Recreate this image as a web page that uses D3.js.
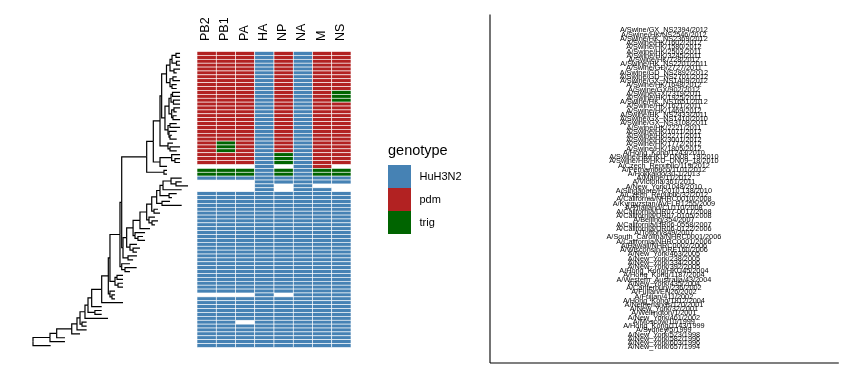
<!DOCTYPE html>
<html>
<head>
<meta charset="utf-8">
<script src="https://cdn.jsdelivr.net/npm/d3@7"></script>
<style>
body { margin: 0; background: #fff; }
svg { font-family: "Liberation Sans", Arial, Helvetica, sans-serif; will-change: transform; }
</style>
</head>
<body>
<script>
// segments shown in the heatmap
var genes = ["PB2", "PB1", "PA", "HA", "NP", "NA", "M", "NS"];
var genotypes = ["HuH3N2", "pdm", "trig"];
var genotypeCode = { H: "HuH3N2", P: "pdm", T: "trig" }; // "-" = missing

// one string per tip (top to bottom), one letter per segment
var genotypeRows = [
	"PPPHPHPP", "PPPHPHPP", "PPPHPHPP", "PPPHPHPP", "PPPHPHPP",
	"PPPHPHPP", "PPPHPHPP", "PPPHPHPP", "PPPHPHPP", "PPPHPHPP",
	"PPPHPHPT", "PPPHPHPT", "PPPHPHPT",
	"PPPHPHPP", "PPPHPHPP", "PPPHPHPP", "PPPHPHPP", "PPPHPHPP",
	"PPPHPHPP", "PPPHPHPP", "PPPHPHPP", "PPPHPHPP", "PPPHPHPP",
	"PTPHPHPP", "PTPHPHPP", "PTPHPHPP",
	"PPPHTHPP", "PPPHTHPP", "PPPHTHPP",
	"---H-HP-",
	"TTTHTHTT", "TTTHTHTT",
	"HHHHHHHH", "---HHHHH", "---H-H--", "---H-HH-",
	"HHHHHHHH", "HHHHHHHH", "HHHHHHHH", "HHHHHHHH", "HHHHHHHH",
	"HHHHHHHH", "HHHHHHHH", "HHHHHHHH", "HHHHHHHH", "HHHHHHHH",
	"HHHHHHHH", "HHHHHHHH", "HHHHHHHH", "HHHHHHHH", "HHHHHHHH",
	"HHHHHHHH", "HHHHHHHH", "HHHHHHHH", "HHHHHHHH", "HHHHHHHH",
	"HHHHHHHH", "HHHHHHHH", "HHHHHHHH", "HHHHHHHH", "HHHHHHHH",
	"HHHHHHHH",
	"---H-HHH",
	"HHHHHHHH", "HHHHHHHH", "HHHHHHHH", "HHHHHHHH", "HHHHHHHH", "HHHHHHHH",
	"HH-HHHHH",
	"HHHHHHHH", "HHHHHHHH", "HHHHHHHH", "HHHHHHHH", "HHHHHHHH", "HHHHHHHH"
];

// tip labels, same order
var tipLabels = [
	"A/Swine/GX_NS2394/2012", "A/Swine/HK/NS2546/2012", "A/Swine/HK_NS2369/2012",
	"A/Swine/HK/1602/2012", "A/Swine/HK/1580/2012", "A/Swine/HK/2503/2011",
	"A/Swine/HK/3245/2011", "A/Swine/HK/728/2012", "A/Swine/HK_NS2201/2011",
	"A/Swine/GD/2727/2011", "A/Swine/GD_NS2892/2012", "A/Swine/GD_NS2701/2012",
	"A/Swine/GX_NS1409/2012", "A/Swine/HK/1648/2012", "A/Swine/GX/902/2012",
	"A/Swine/GX/2319/2011", "A/Swine/HK/1925/2011", "A/Swine/HK_NS1651/2012",
	"A/Swine/HK/1621/2011", "A/Swine/HK/1469/2012", "A/Swine/HK_NS2433/2011",
	"A/Swine/GX_NS1410/2010", "A/Swine/GX_NS3108/2011", "A/Swine/HK/2221/2011",
	"A/Swine/HK/1071/2012", "A/Swine/HK/2271/2011", "A/Swine/HK/3001/2012",
	"A/Swine/HK/1772/2012", "A/Swine/HK/1805/2012", "A/Hong_Kong/1243/2010",
	"A/Swine/HK/HKU_DN08_19/2010", "A/Swine/HB/HKU_DN09_18/2010", "A/Czech_Republic/119/2012",
	"A/Pernambuco/1101/2012", "A/Hokkaido/30-1/2013", "A/Maine/11/2012",
	"A/Victoria/361/2011", "A/New_York/1048/2010", "A/Singapore/H2010.138/2010",
	"A/Czech_Republic/32/2012", "A/California/NHRC0010/2008", "A/Kyrgyzstan/AVFLR1255/2009",
	"A/Thailand/CU110/2008", "A/California/UR07-0017/2008", "A/California/UR07-0105/2008",
	"A/Beijing/354/2007", "A/California/UR06-0558/2007", "A/California/UR06-0122/2006",
	"A/Tottori/849/2007", "A/South_Carolina/NHRC0001/2006", "A/California/NHRC0001/2006",
	"A/Hawaii/NHRC0002/2006", "A/Wisconsin/DRE160/2006", "A/New_York/463/2005",
	"A/New_York/238/2005", "A/New_York/334/2006", "A/New_York/392/2005",
	"A/Hong_Kong/HKU45/2004", "A/Hong_Kong/1187/2004", "A/Western_Australia/43/2004",
	"A/New_York/435/2004", "A/Canterbury/236/2002", "A/Fujian/EN26/2002",
	"A/Fujian/411/2002", "A/Hong_Kong/1812/2004", "A/Netherlands/120/2001",
	"A/New_York/32/2001", "A/Wellington/1/2001", "A/New_York/461/2002",
	"A/Moscow/10/1999", "A/Hong_Kong/1143/1999", "A/Sydney/5/1999",
	"A/New_York/523/1998", "A/New_York/582/1996", "A/New_York/603/1996",
	"A/New_York/657/1994"
];

// tree in newick pieces (tips = row index, branch lengths in years)
var clades = [
	["root", "({N1}:2.36,75:2.45)"],
	["N1", "({N2}:0.93,74:2.08)"],
	["N2", "({N3}:2.09,73:1.15)"],
	["N3", "({N4}:0.73,72:1.15)"],
	["N4", "({N5}:0.42,71:1.34)"],
	["N5", "({N6}:0.69,(69:0.64,70:0.64):0.28)"],
	["N6", "({N7}:0.42,68:3.2)"],
	["N7", "({N8}:0.51,(66:0.94,67:0.94):0.96)"],
	["N8", "({N9}:1.39,65:1.39)"],
	["N9", "({N10}:0.92,64:2.96)"],
	["N10", "({N10a}:0.23,(61:0.7,(62:0.42,63:0.42):0.28):0.23)"],
	["N10a", "({N11}:1.39,((57:0.83,58:0.83):0.28,(59:0.69,60:0.69):0.42):0.7)"],
	["N11", "({M}:0.24,(54:1.15,(55:1.62,56:0.69):0.46):0.24)"],
	["M", "({A}:3.47,{H}:0.18)"],
	["A", "({P}:0.92,(30:0.42,31:0.42):2.4)"],
	["P", "({P1}:0.93,((26:1.16,(27:0.7,28:0.7):0.46):1.62,29:0.97):0.93)"],
	["P1", "(({Q1}:0.67,{Q2}:0.46):0.23,(23:0.69,(24:1.39,25:0.93):0.28):1.11)"],
	["Q1", "((((0:0.56,1:0.56):0.55,(2:0.49,3:0.49):0.62):0.28,(4:0.84,5:0.38):0.55):0.49,((6:0.52,7:0.98):0.41,(8:0.65,9:0.65):0.28):0.49)"],
	["Q2", "((((10:1.04,11:1.04):0.21,(12:0.91,13:0.91):0.34):0.28,((14:0.84,15:0.38):0.32,(16:0.52,17:0.98):0.18):0.37):0.56,((18:0.93,19:1.39):0.28,(20:1.07,(21:0.28,22:0.93):0.14):0.14):0.42)"],
	["H", "(({H2}:0.89,(49:0.97,(50:0.96,51:0.54):0.43):0.46):0.51,(52:1.24,53:0.7):0.7)"],
	["H2", "(({H4}:0.93,45:1.39):0.96,(46:1.39,(47:0.7,48:0.98):0.41):0.27)"],
	["H4", "(({H6}:0.69,(40:0.55,41:0.83):0.32):0.7,(42:0.83,(43:0.83,44:0.41):0.42):0.32)"],
	["H6", "((((32:1.48,(33:0.79,34:1.67):0.69):1.11,35:2.59):0.42,(36:1.06,37:0.4):1.26):0.46,(38:1.11,39:2.73):0.74)"]
];

var cladeMap = new Map(clades);
function expand(key) {
	return cladeMap.get(key).replace(/\{(\w+)\}/g, function(m, k) { return expand(k); });
}

function parseNewick(s) {
	var i = 0;
	function node() {
		var n = { name: "", length: 0 };
		if (s[i] === "(") {
			i++;
			n.children = [node()];
			while (s[i] === ",") { i++; n.children.push(node()); }
			i++; // ")"
		}
		while (i < s.length && ":,();".indexOf(s[i]) < 0) n.name += s[i++];
		if (s[i] === ":") {
			i++;
			var len = "";
			while (i < s.length && ",);".indexOf(s[i]) < 0) len += s[i++];
			n.length = +len;
		}
		return n;
	}
	return node();
}

var svg = d3.select("body").append("svg")
	.attr("width", 853)
	.attr("height", 382);

var nRows = genotypeRows.length;
var yRow = d3.scaleBand().domain(d3.range(nRows)).range([51.5, 347.5]);
var xTime = d3.scaleLinear().domain([0, 20]).range([33, 177]);
var xGene = d3.scaleBand().domain(genes).range([197, 351]);
var color = d3.scaleOrdinal().domain(genotypes).range(["#4682B4", "#B22222", "#006400"]);

// ---- tree ----
var root = d3.hierarchy(parseNewick(expand("root")));
root.eachBefore(function(d) { d.t = d.parent ? d.parent.t + d.data.length : 0; });
root.eachAfter(function(d) {
	d.py = d.children ? d3.mean(d.children, function(c) { return c.py; })
		: yRow(+d.data.name) + yRow.bandwidth() / 2;
});

svg.append("g")
	.selectAll("path")
	.data(root.descendants().slice(1))
	.join("path")
	.attr("d", function(d) {
		return "M" + xTime(d.parent.t) + "," + d.parent.py + "V" + d.py + "H" + xTime(d.t);
	})
	.attr("fill", "none")
	.attr("stroke", "black")
	.attr("stroke-width", 1.2);

// ---- heatmap ----
var cells = [];
genotypeRows.forEach(function(row, r) {
	genes.forEach(function(g, j) {
		if (row[j] !== "-") cells.push({ row: r, gene: g, type: genotypeCode[row[j]] });
	});
});

svg.append("g")
	.selectAll("rect")
	.data(cells)
	.join("rect")
	.attr("x", function(d) { return xGene(d.gene); })
	.attr("y", function(d) { return yRow(d.row); })
	.attr("width", xGene.bandwidth())
	.attr("height", yRow.bandwidth())
	.attr("fill", function(d) { return color(d.type); })
	.attr("stroke", "white")
	.attr("stroke-width", 0.6);

svg.append("g")
	.selectAll("text")
	.data(genes)
	.join("text")
	.attr("transform", function(g) {
		return "translate(" + (xGene(g) + xGene.bandwidth() / 2 + 2.5) + ",41)rotate(-90)";
	})
	.attr("font-size", "12.5px")
	.attr("fill", "black")
	.text(function(g) { return g; });

// ---- legend ----
var legend = svg.append("g").attr("transform", "translate(388,0)");
legend.append("text")
	.attr("x", 0)
	.attr("y", 155)
	.attr("font-size", "14.5px")
	.attr("fill", "black")
	.text("genotype");

var keys = legend.selectAll("g.key")
	.data(genotypes)
	.join("g")
	.attr("class", "key")
	.attr("transform", function(d, i) { return "translate(0," + (165 + i * 23) + ")"; });

keys.append("rect")
	.attr("width", 23)
	.attr("height", 23)
	.attr("fill", function(d) { return color(d); });

keys.append("text")
	.attr("x", 31.5)
	.attr("y", 11.5)
	.attr("dy", "0.35em")
	.attr("font-size", "11px")
	.attr("fill", "black")
	.text(function(d) { return d; });

// ---- label panel ----
var yLab = d3.scaleLinear().domain([-3.75, nRows - 1 + 3.75]).range([14, 362.5]);
var xLab = d3.scaleLinear().domain([-1, 1]).range([489.5, 838.3]);

svg.append("g")
	.selectAll("text")
	.data(tipLabels)
	.join("text")
	.attr("x", xLab(0))
	.attr("y", function(d, i) { return yLab(i); })
	.attr("dy", "0.35em")
	.attr("text-anchor", "middle")
	.attr("font-size", "7.3px")
	.attr("fill", "black")
	.text(function(d) { return d; });

var axisY = svg.append("g")
	.attr("transform", "translate(489.5,0)")
	.call(d3.axisLeft(yLab).tickValues([]).tickSizeOuter(0));
var axisX = svg.append("g")
	.attr("transform", "translate(0,362.5)")
	.call(d3.axisBottom(xLab).tickValues([]).tickSizeOuter(0));
svg.selectAll(".domain")
	.attr("stroke", "black")
	.attr("stroke-width", 1.1);
</script>
</body>
</html>
